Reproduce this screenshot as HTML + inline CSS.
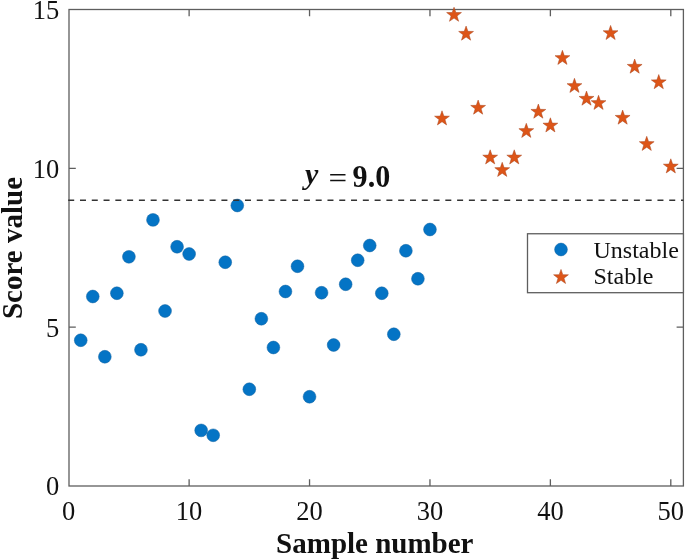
<!DOCTYPE html>
<html><head><meta charset="utf-8"><title>Score value vs sample number</title><style>
html,body{margin:0;padding:0;background:#fff;}
svg{display:block;}
text{font-family:"Liberation Serif","Times New Roman",serif;}
</style></head><body>
<svg width="685" height="560" viewBox="0 0 685 560">
<rect width="685" height="560" fill="#fff"/>
<rect x="69.0" y="9.5" width="614.40" height="476.50" fill="none" stroke="#5e5e5e" stroke-width="1.3"/>
<path d="M189.12 486.0v-6.8M189.12 9.5v6.8M309.54 486.0v-6.8M309.54 9.5v6.8M429.96 486.0v-6.8M429.96 9.5v6.8M550.38 486.0v-6.8M550.38 9.5v6.8M670.80 486.0v-6.8M670.80 9.5v6.8M69.0 327.05h6.8M683.4 327.05h-6.8M69.0 168.30h6.8M683.4 168.30h-6.8" stroke="#5e5e5e" stroke-width="1.3" fill="none"/>
<g fill="#0474C5" stroke="#1363a0" stroke-width="0.5">
<circle cx="80.74" cy="340.25" r="6.4"/>
<circle cx="92.78" cy="296.5" r="6.4"/>
<circle cx="104.83" cy="356.75" r="6.4"/>
<circle cx="116.87" cy="293.25" r="6.4"/>
<circle cx="128.91" cy="256.8" r="6.4"/>
<circle cx="140.95" cy="349.75" r="6.4"/>
<circle cx="152.99" cy="219.9" r="6.4"/>
<circle cx="165.04" cy="311" r="6.4"/>
<circle cx="177.08" cy="246.75" r="6.4"/>
<circle cx="189.12" cy="254" r="6.4"/>
<circle cx="201.16" cy="430.4" r="6.4"/>
<circle cx="213.20" cy="435.3" r="6.4"/>
<circle cx="225.25" cy="262.25" r="6.4"/>
<circle cx="237.29" cy="205.5" r="6.4"/>
<circle cx="249.33" cy="389.25" r="6.4"/>
<circle cx="261.37" cy="318.75" r="6.4"/>
<circle cx="273.41" cy="347.5" r="6.4"/>
<circle cx="285.46" cy="291.5" r="6.4"/>
<circle cx="297.50" cy="266.25" r="6.4"/>
<circle cx="309.54" cy="396.75" r="6.4"/>
<circle cx="321.58" cy="292.75" r="6.4"/>
<circle cx="333.62" cy="345" r="6.4"/>
<circle cx="345.67" cy="284.25" r="6.4"/>
<circle cx="357.71" cy="260.25" r="6.4"/>
<circle cx="369.75" cy="245.5" r="6.4"/>
<circle cx="381.79" cy="293.25" r="6.4"/>
<circle cx="393.83" cy="334.25" r="6.4"/>
<circle cx="405.88" cy="250.75" r="6.4"/>
<circle cx="417.92" cy="278.75" r="6.4"/>
<circle cx="429.96" cy="229.5" r="6.4"/>
</g>
<g fill="#DD5518" stroke="#a9441c" stroke-width="0.5">
<polygon points="442.00,110.80 443.84,116.08 449.42,116.19 444.97,119.56 446.59,124.91 442.00,121.72 437.42,124.91 439.03,119.56 434.58,116.19 440.17,116.08"/>
<polygon points="454.04,7.20 455.88,12.48 461.46,12.59 457.01,15.96 458.63,21.31 454.04,18.12 449.46,21.31 451.08,15.96 446.63,12.59 452.21,12.48"/>
<polygon points="466.09,26.05 467.92,31.33 473.50,31.44 469.05,34.81 470.67,40.16 466.09,36.97 461.50,40.16 463.12,34.81 458.67,31.44 464.25,31.33"/>
<polygon points="478.13,100.05 479.96,105.33 485.55,105.44 481.10,108.81 482.71,114.16 478.13,110.97 473.54,114.16 475.16,108.81 470.71,105.44 476.29,105.33"/>
<polygon points="490.17,149.80 492.00,155.08 497.59,155.19 493.14,158.56 494.75,163.91 490.17,160.72 485.59,163.91 487.20,158.56 482.75,155.19 488.34,155.08"/>
<polygon points="502.21,162.30 504.05,167.58 509.63,167.69 505.18,171.06 506.80,176.41 502.21,173.22 497.63,176.41 499.24,171.06 494.79,167.69 500.38,167.58"/>
<polygon points="514.25,149.80 516.09,155.08 521.67,155.19 517.22,158.56 518.84,163.91 514.25,160.72 509.67,163.91 511.29,158.56 506.84,155.19 512.42,155.08"/>
<polygon points="526.30,123.30 528.13,128.58 533.71,128.69 529.26,132.06 530.88,137.41 526.30,134.22 521.71,137.41 523.33,132.06 518.88,128.69 524.46,128.58"/>
<polygon points="538.34,104.05 540.17,109.33 545.76,109.44 541.31,112.81 542.92,118.16 538.34,114.97 533.75,118.16 535.37,112.81 530.92,109.44 536.50,109.33"/>
<polygon points="550.38,117.80 552.21,123.08 557.80,123.19 553.35,126.56 554.96,131.91 550.38,128.72 545.80,131.91 547.41,126.56 542.96,123.19 548.55,123.08"/>
<polygon points="562.42,50.30 564.26,55.58 569.84,55.69 565.39,59.06 567.01,64.41 562.42,61.22 557.84,64.41 559.45,59.06 555.00,55.69 560.59,55.58"/>
<polygon points="574.46,78.30 576.30,83.58 581.88,83.69 577.43,87.06 579.05,92.41 574.46,89.22 569.88,92.41 571.50,87.06 567.05,83.69 572.63,83.58"/>
<polygon points="586.51,91.05 588.34,96.33 593.92,96.44 589.47,99.81 591.09,105.16 586.51,101.97 581.92,105.16 583.54,99.81 579.09,96.44 584.67,96.33"/>
<polygon points="598.55,95.30 600.38,100.58 605.97,100.69 601.52,104.06 603.13,109.41 598.55,106.22 593.96,109.41 595.58,104.06 591.13,100.69 596.71,100.58"/>
<polygon points="610.59,25.40 612.42,30.68 618.01,30.79 613.56,34.16 615.17,39.51 610.59,36.32 606.01,39.51 607.62,34.16 603.17,30.79 608.76,30.68"/>
<polygon points="622.63,110.05 624.47,115.33 630.05,115.44 625.60,118.81 627.22,124.16 622.63,120.97 618.05,124.16 619.66,118.81 615.21,115.44 620.80,115.33"/>
<polygon points="634.67,59.05 636.51,64.33 642.09,64.44 637.64,67.81 639.26,73.16 634.67,69.97 630.09,73.16 631.71,67.81 627.26,64.44 632.84,64.33"/>
<polygon points="646.72,136.30 648.55,141.58 654.13,141.69 649.68,145.06 651.30,150.41 646.72,147.22 642.13,150.41 643.75,145.06 639.30,141.69 644.88,141.58"/>
<polygon points="658.76,74.55 660.59,79.83 666.18,79.94 661.73,83.31 663.34,88.66 658.76,85.47 654.17,88.66 655.79,83.31 651.34,79.94 656.92,79.83"/>
<polygon points="670.80,158.80 672.63,164.08 678.22,164.19 673.77,167.56 675.38,172.91 670.80,169.72 666.22,172.91 667.83,167.56 663.38,164.19 668.97,164.08"/>
</g>
<line x1="68.2" y1="200.2" x2="683.4" y2="200.2" stroke="#333" stroke-width="1.6" stroke-dasharray="6 5.785"/>
<g font-size="26.5" fill="#111">
<text x="68.70" y="519.7" text-anchor="middle">0</text>
<text x="189.12" y="519.7" text-anchor="middle">10</text>
<text x="309.54" y="519.7" text-anchor="middle">20</text>
<text x="429.96" y="519.7" text-anchor="middle">30</text>
<text x="550.38" y="519.7" text-anchor="middle">40</text>
<text x="670.80" y="519.7" text-anchor="middle">50</text>
<text x="59.3" y="495.40" text-anchor="end">0</text>
<text x="59.3" y="336.65" text-anchor="end">5</text>
<text x="59.3" y="177.90" text-anchor="end">10</text>
<text x="59.3" y="19.15" text-anchor="end">15</text>
</g>
<text x="374.8" y="552.6" text-anchor="middle" font-size="29" font-weight="bold" fill="#111">Sample number</text>
<text transform="translate(22.0 248) rotate(-90)" text-anchor="middle" font-size="29" font-weight="bold" fill="#111">Score value</text>
<g fill="#111" font-size="30">
<text x="305" y="183.6" font-weight="bold" font-style="italic">y</text>
<text transform="translate(328.4 187.6) scale(1.1 1)">=</text>
<text transform="translate(352.6 187.3) scale(0.955 1)" font-size="31.5" font-weight="bold">9.0</text>
</g>
<rect x="527.5" y="233.75" width="155.9" height="58.95" fill="#fff" stroke="#5e5e5e" stroke-width="1.3"/>
<circle cx="561" cy="249.5" r="6.4" fill="#0474C5" stroke="#1363a0" stroke-width="0.5"/>
<polygon points="561.00,269.40 562.83,274.68 568.42,274.79 563.97,278.16 565.58,283.51 561.00,280.32 556.42,283.51 558.03,278.16 553.58,274.79 559.17,274.68" fill="#DD5518" stroke="#a9441c" stroke-width="0.5"/>
<g font-size="24" fill="#111">
<text x="593.5" y="258.4">Unstable</text>
<text x="593.5" y="283.9">Stable</text>
</g>
</svg>
</body></html>
